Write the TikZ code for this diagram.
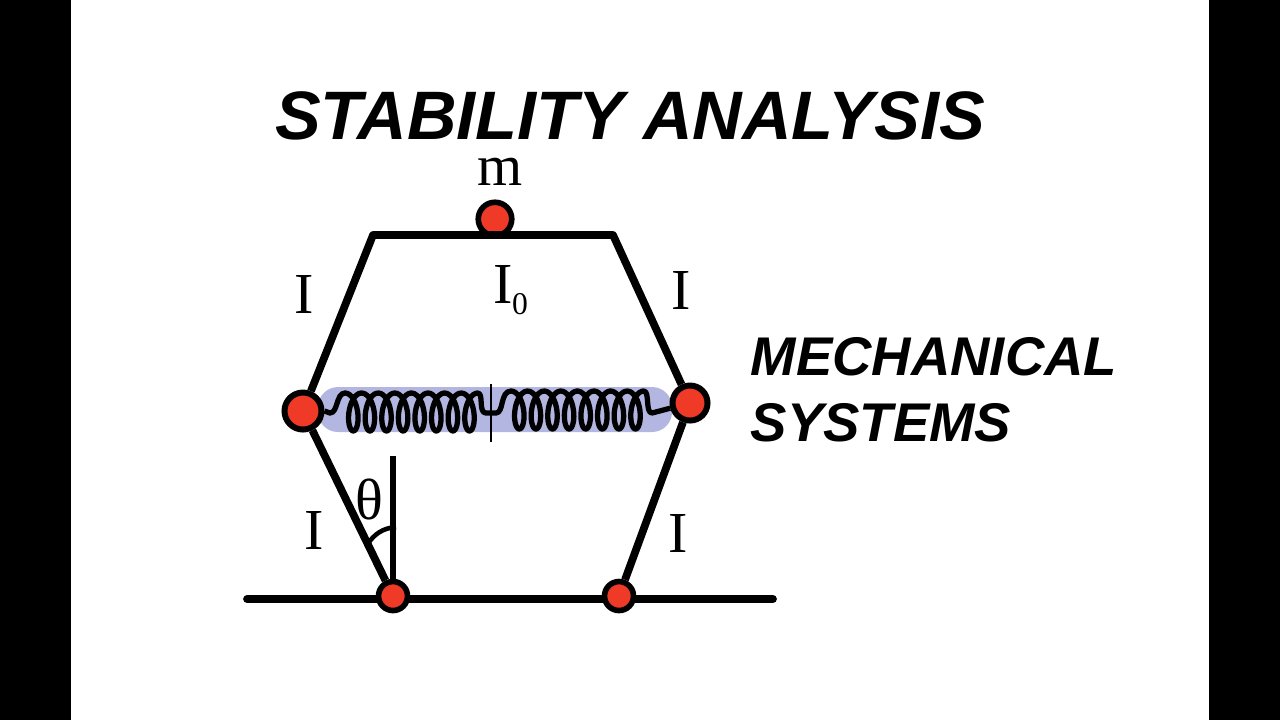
\documentclass[tikz,border=0pt]{standalone}
\usepackage{fontspec}
\setmainfont{Liberation Serif}
\setsansfont{Liberation Sans}
\tikzset{
  bar/.style={fill=black,draw=none},
  link/.style={line width=2.2pt,line join=round},
  pivot/.style={circle,draw=black,fill=pivotred,inner sep=0pt},
  coil/.style={line width=1.5pt,line join=round},
  heading/.style={font=\sffamily\bfseries\itshape\fontsize{19.5}{22}\selectfont,inner sep=0pt},
  subheading/.style={font=\sffamily\bfseries\itshape\fontsize{15.5}{18.8}\selectfont,align=left,inner sep=0pt},
  symb/.style={font=\fontsize{16.5}{18}\selectfont,inner sep=0pt}
}
\definecolor{pivotred}{RGB}{238,58,38}
\definecolor{band}{RGB}{178,182,224}

\begin{document}
\begin{tikzpicture}[x=0.01cm,y=-0.01cm]
  \useasboundingbox (0,0) rectangle (1280,720);
  \fill[bar] (0,0) rectangle (71,720);
  \fill[bar] (1209,0) rectangle (1280,720);

  \node[heading] (title) at (630,116) {STABILITY ANALYSIS};
  \node[subheading,anchor=west] (system) at (750,390) {MECHANICAL\\SYSTEMS};

  % spring housing
  \fill[band,rounded corners=0.2cm] (318,387) rectangle (672,432);

  \coordinate (tl) at (373,235);
  \coordinate (tr) at (613,235);
  \coordinate (gl) at (247,599);
  \coordinate (gr) at (773,599);
  \coordinate (vt) at (393,456);
  \coordinate (mt) at (491,384);
  \coordinate (mb) at (491,442);
  \coordinate (mc) at (491,413);

  % ground
  \draw[link,line cap=round] (gl) -- (gr);

  % pivots
  \node[pivot,line width=1.6pt,minimum size=0.335cm] (pm) at (495,219) {};
  \node[pivot,line width=1.7pt,minimum size=0.37cm] (pl) at (303,411) {};
  \node[pivot,line width=1.7pt,minimum size=0.35cm] (pr) at (690,403) {};
  \node[pivot,line width=1.6pt,minimum size=0.29cm] (bl) at (393,596) {};
  \node[pivot,line width=1.6pt,minimum size=0.29cm] (br) at (619,596) {};

  % frame
  \draw[link] (pl) -- (tl) -- (tr) -- (pr);
  \draw[link] (pl) -- (bl);
  \draw[link] (pr) -- (br);
  \draw[line width=1.5pt] (vt) -- (bl);
  \draw[line width=1.3pt] (367,545) .. controls (374,534) and (383,528) .. (396,527);

  % spring
  \draw[line width=0.4pt] (mt) -- (mb);
  \draw[coil] (pl.east) -- (330,413) .. controls (338,413) and (336,393) .. (345,393)
    -- plot[domain=0:8,samples=260,smooth,variable=\s] ({345+16.6*\s+8.5*sin(360*\s)},{412-19*cos(360*\s)})
    .. controls (484,393) and (478,413) .. (486,413) -- (mc);
  \draw[coil] (mc) -- (496,413) .. controls (504,413) and (500,391) .. (511,391)
    -- plot[domain=0:8,samples=260,smooth,variable=\s] ({511+16.6*\s+8.5*sin(360*\s)},{410-19*cos(360*\s)})
    .. controls (650,391) and (645,413) .. (652,413) -- (pr);

  % labels
  \node[symb] (mass) at (500,172) {m};
  \node[symb] (il) at (304,294) {I};
  \node[symb] (ir) at (681,290) {I};
  \node[symb] (ibl) at (314,530) {I};
  \node[symb] (ibr) at (678,533) {I};
  \node[symb] (theta) at (369,499) {θ};
  \node[symb] (izero) at (503,284) {I};
  \node[font=\fontsize{9}{10}\selectfont,inner sep=0pt] (zero) at (520,304) {0};
\end{tikzpicture}
\end{document}
